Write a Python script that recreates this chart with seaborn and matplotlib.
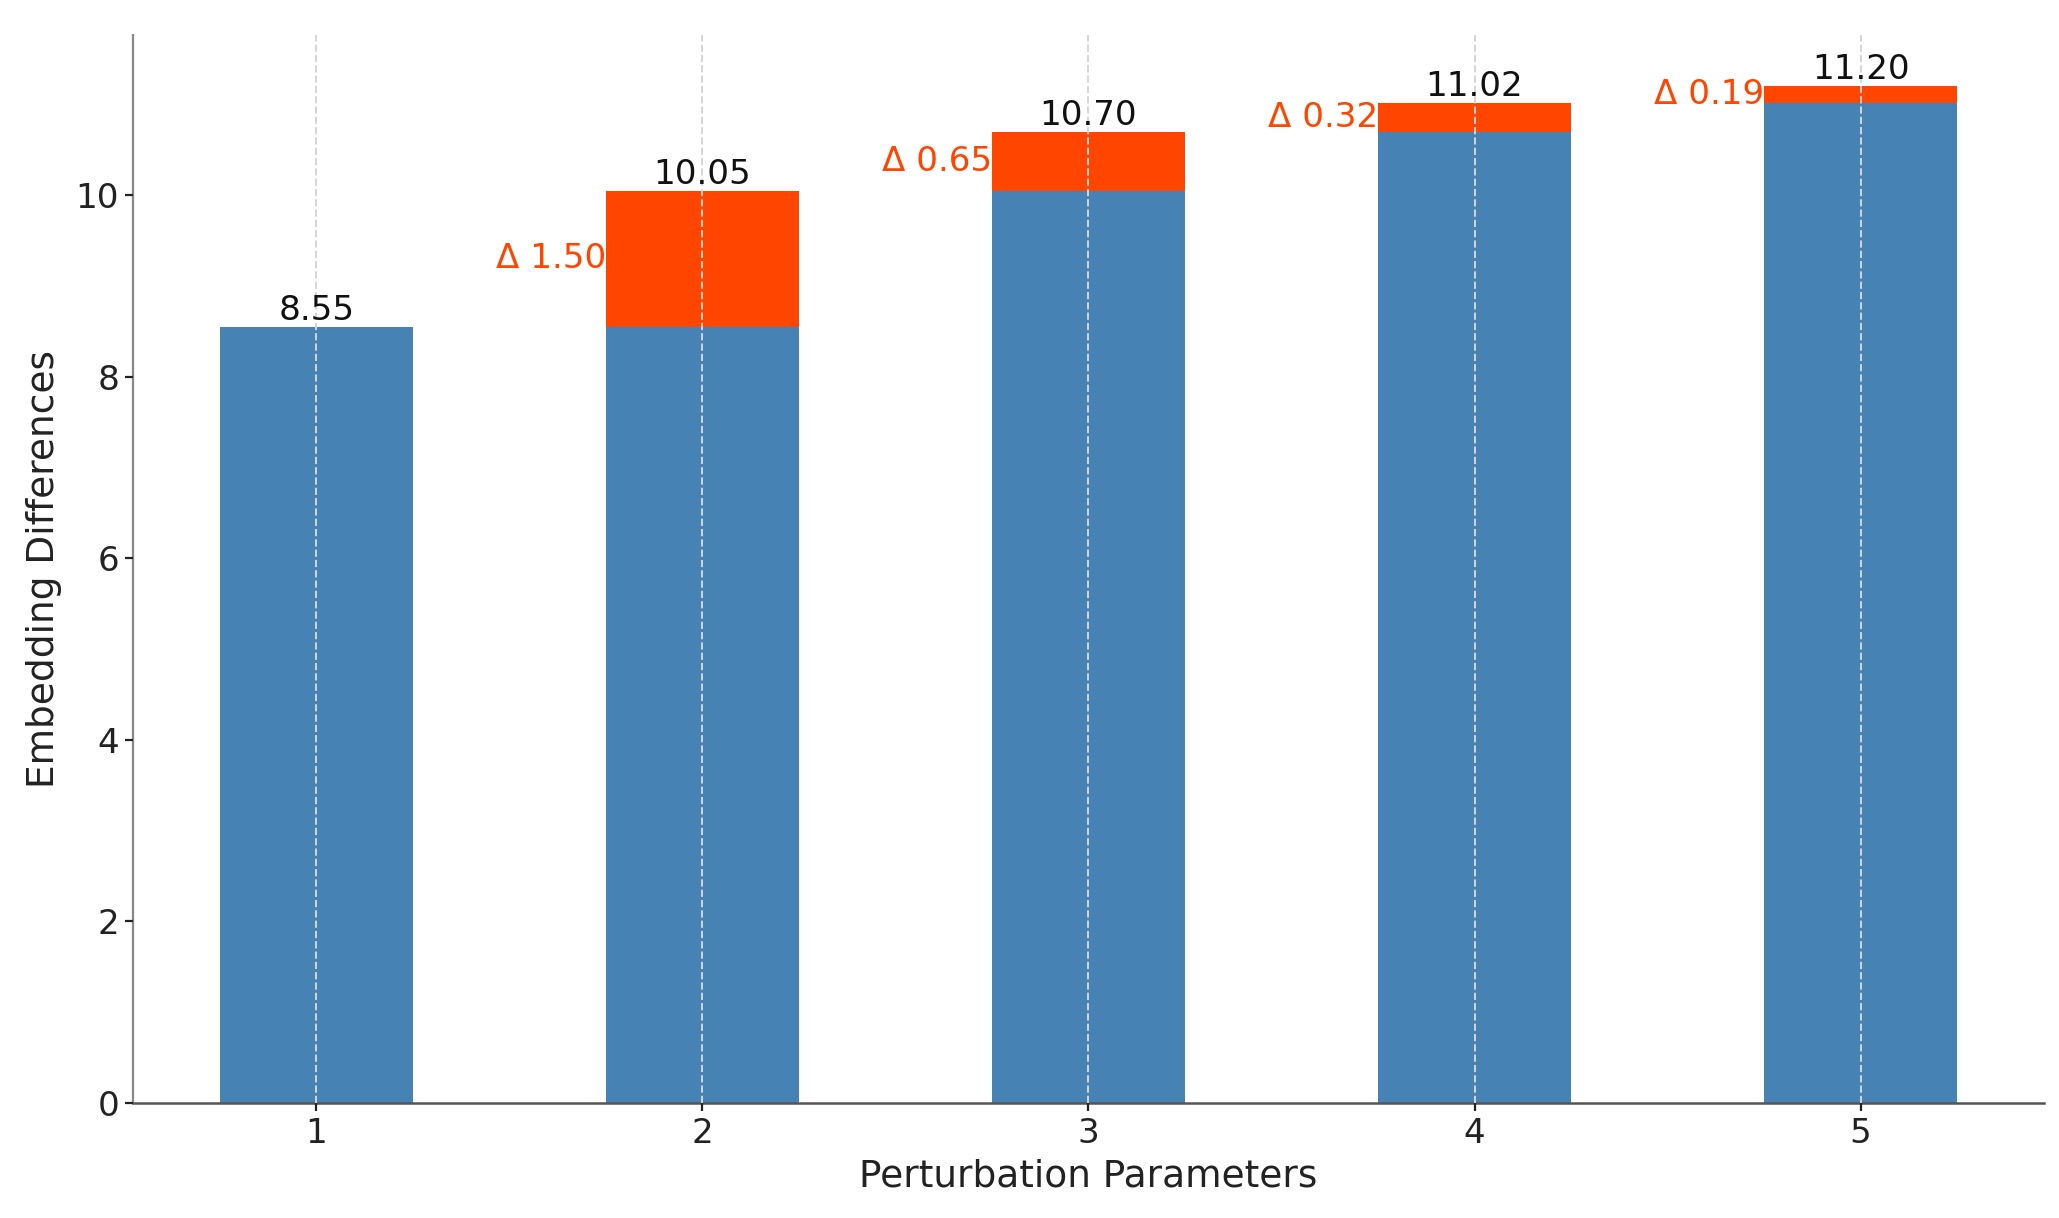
import numpy as np
import pandas as pd
import matplotlib
matplotlib.use("Agg")
import matplotlib.pyplot as plt
import seaborn as sns

# 데이터
params = ["1", "2", "3", "4", "5"]
totals = [8.55, 10.05, 10.70, 11.02, 11.20]
deltas = [0.00, 1.50, 0.65, 0.32, 0.19]

base = [t - d for t, d in zip(totals, deltas)]
df = pd.DataFrame({"param": params, "total": totals, "base": base, "delta": deltas})

sns.set_style("white")
plt.rcParams["font.family"] = ["DejaVu Sans"]

fig, ax = plt.subplots(figsize=(10.295, 6.09), dpi=200)
fig.subplots_adjust(left=0.0646, right=0.9927, top=0.971, bottom=0.0944)

# 주황: 전체 높이, 파랑: 이전 값
sns.barplot(data=df, x="param", y="total", color="#FF4500", saturation=1,
            width=0.5, linewidth=0, ax=ax)
sns.barplot(data=df, x="param", y="base", color="#4682B4", saturation=1,
            width=0.5, linewidth=0, ax=ax)

# 값 라벨
for i, row in df.iterrows():
    ax.text(i, row["total"], f"{row['total']:.2f}", ha="center", va="bottom",
            fontsize=12.3, color="#111111")
    if row["delta"] > 0:
        ax.text(i - 0.25, row["base"] + row["delta"] / 2, f"Δ {row['delta']:.2f}",
                ha="right", va="center", fontsize=12.3, color="#FF4500")

ax.set_xlabel("Perturbation Parameters", fontsize=13.5, color="#222222", labelpad=3)
ax.set_ylabel("Embedding Differences", fontsize=13.5, color="#222222", labelpad=5)
ax.set_yticks([0, 2, 4, 6, 8, 10])
ax.tick_params(axis="both", labelsize=12.3, colors="#222222", length=3,
               width=0.8, direction="out", left=True, bottom=True, pad=2)
for lab in ax.get_xticklabels() + ax.get_yticklabels():
    lab.set_color("#222222")

ax.set_axisbelow(False)
ax.grid(axis="x", linestyle="--", color="#d5d5d5", linewidth=0.7)
ax.grid(axis="y", visible=False)

sns.despine(ax=ax)
ax.spines["left"].set_color("#888888")
ax.spines["left"].set_linewidth(0.8)
ax.spines["bottom"].set_color("#555555")
ax.spines["bottom"].set_linewidth(0.9)

ax.set_ylim(0, 11.76)
ax.set_xlim(-0.475, 4.475)

fig.savefig("out.png", dpi=200)
